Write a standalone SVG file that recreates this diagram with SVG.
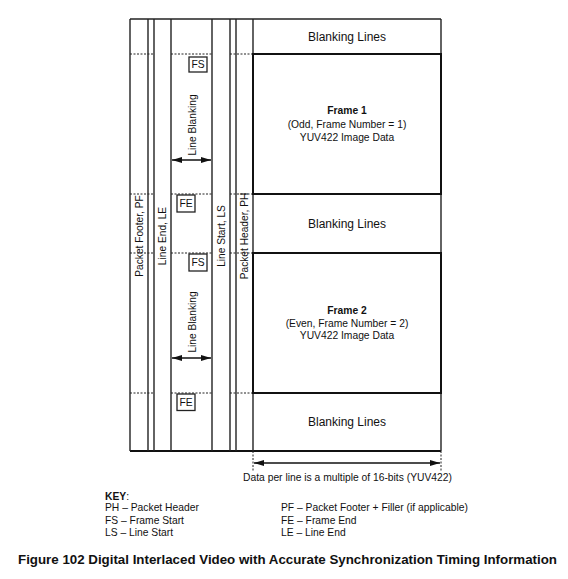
<svg xmlns="http://www.w3.org/2000/svg" width="568" height="579" viewBox="0 0 568 579">
<style>
text{font-family:"Liberation Sans",Arial,sans-serif;fill:#111}
.thin{stroke:#222;stroke-width:1.4;fill:none}
.thick{stroke:#111;stroke-width:2;fill:none}
.dash{stroke:#222;stroke-width:1;stroke-dasharray:2,1.5;fill:none}
.lbl{font-size:10.3px}
.bl{font-size:12px;text-anchor:middle}
.fr{font-size:10.3px;text-anchor:middle}
.rot{font-size:10.2px;text-anchor:middle;dominant-baseline:central}
.box{fill:#fff;stroke:#222;stroke-width:1.3}
.arr{stroke:#111;stroke-width:1.5;fill:none}
</style>
<defs>
<marker id="ah" viewBox="0 0 10 6" refX="10" refY="3" markerWidth="10" markerHeight="6" markerUnits="userSpaceOnUse" orient="auto-start-reverse">
<path d="M0,0 L10,3 L0,6 Z" fill="#111"/>
</marker>
</defs>
<rect width="568" height="579" fill="#fff"/>
<g id="frame-structure">
<line class="thin" x1="130" y1="19" x2="441" y2="19"/>
<line class="thick" x1="130" y1="451" x2="441" y2="451"/>
<line class="thin" x1="441" y1="19" x2="441" y2="451"/>
<line class="thin" x1="130" y1="19" x2="130" y2="451"/>
<line class="thin" x1="148" y1="19" x2="148" y2="451"/>
<line class="thin" x1="154" y1="19" x2="154" y2="451"/>
<line class="thin" x1="171" y1="19" x2="171" y2="451"/>
<line class="thin" x1="212" y1="19" x2="212" y2="451"/>
<line class="thin" x1="230" y1="19" x2="230" y2="451"/>
<line class="thin" x1="236" y1="19" x2="236" y2="451"/>
<line class="thin" x1="253" y1="19" x2="253" y2="451"/>
<path class="dash" d="M130,54H154M171,54H212M230,54H253M130,194H154M171,194H212M230,194H253M130,253H154M171,253H212M230,253H253M130,393H154M171,393H212M230,393H253"/>
</g>
<g id="blanking-1"><text class="bl" x="347" y="41">Blanking Lines</text></g>
<g id="frame-1">
<rect class="thick" x="253" y="54" width="188" height="140"/>
<text class="fr" x="347" y="114" font-weight="bold">Frame 1</text>
<text class="fr" x="347" y="127.7">(Odd, Frame Number = 1)</text>
<text class="fr" x="347" y="140.5">YUV422 Image Data</text>
</g>
<g id="blanking-2"><text class="bl" x="347" y="228">Blanking Lines</text></g>
<g id="frame-2">
<rect class="thick" x="253" y="253" width="188" height="140"/>
<text class="fr" x="347" y="314" font-weight="bold">Frame 2</text>
<text class="fr" x="347" y="327">(Even, Frame Number = 2)</text>
<text class="fr" x="347" y="339">YUV422 Image Data</text>
</g>
<g id="blanking-3"><text class="bl" x="347" y="426">Blanking Lines</text></g>
<g id="column-labels">
<text class="rot" transform="translate(139,236) rotate(-90)">Packet Footer, PF</text>
<text class="rot" transform="translate(162.5,236) rotate(-90)">Line End, LE</text>
<text class="rot" transform="translate(221,236) rotate(-90)">Line Start, LS</text>
<text class="rot" transform="translate(244.5,236) rotate(-90)">Packet Header, PH</text>
<text class="rot" transform="translate(192,125) rotate(-90)">Line Blanking</text>
<text class="rot" transform="translate(192,322) rotate(-90)">Line Blanking</text>
</g>
<g id="fs-1"><rect class="box" x="189" y="57" width="18" height="15"/><text class="lbl" x="198" y="68.3" text-anchor="middle">FS</text></g>
<g id="fe-1"><rect class="box" x="177" y="195" width="18" height="17"/><text class="lbl" x="186" y="207" text-anchor="middle">FE</text></g>
<g id="fs-2"><rect class="box" x="189" y="254" width="18" height="17"/><text class="lbl" x="198" y="266" text-anchor="middle">FS</text></g>
<g id="fe-2"><rect class="box" x="177" y="394" width="18" height="16.5"/><text class="lbl" x="186" y="406" text-anchor="middle">FE</text></g>
<g id="connectors">
<line class="arr" x1="172" y1="160" x2="211" y2="160" marker-start="url(#ah)" marker-end="url(#ah)"/>
<line class="arr" x1="172" y1="358" x2="211" y2="358" marker-start="url(#ah)" marker-end="url(#ah)"/>
<line class="arr" x1="254" y1="463" x2="440" y2="463" marker-start="url(#ah)" marker-end="url(#ah)"/>
<path class="dash" d="M253,451V471M441,451V471"/>
</g>
<g id="data-label"><text class="lbl" x="347.5" y="481" text-anchor="middle">Data per line is a multiple of 16-bits (YUV422)</text></g>
<g id="key">
<text class="lbl" x="105" y="499.5"><tspan font-weight="bold">KEY</tspan>:</text>
<text class="lbl" x="105" y="510.5">PH – Packet Header</text>
<text class="lbl" x="105" y="523.5">FS – Frame Start</text>
<text class="lbl" x="105" y="535.5">LS – Line Start</text>
<text class="lbl" x="281" y="510.5">PF – Packet Footer + Filler (if applicable)</text>
<text class="lbl" x="281" y="523.5">FE – Frame End</text>
<text class="lbl" x="281" y="535.5">LE – Line End</text>
</g>
<g id="caption"><text x="18" y="563.5" font-size="12.5" font-weight="bold" textLength="539" lengthAdjust="spacingAndGlyphs">Figure 102 Digital Interlaced Video with Accurate Synchronization Timing Information</text></g>
</svg>
